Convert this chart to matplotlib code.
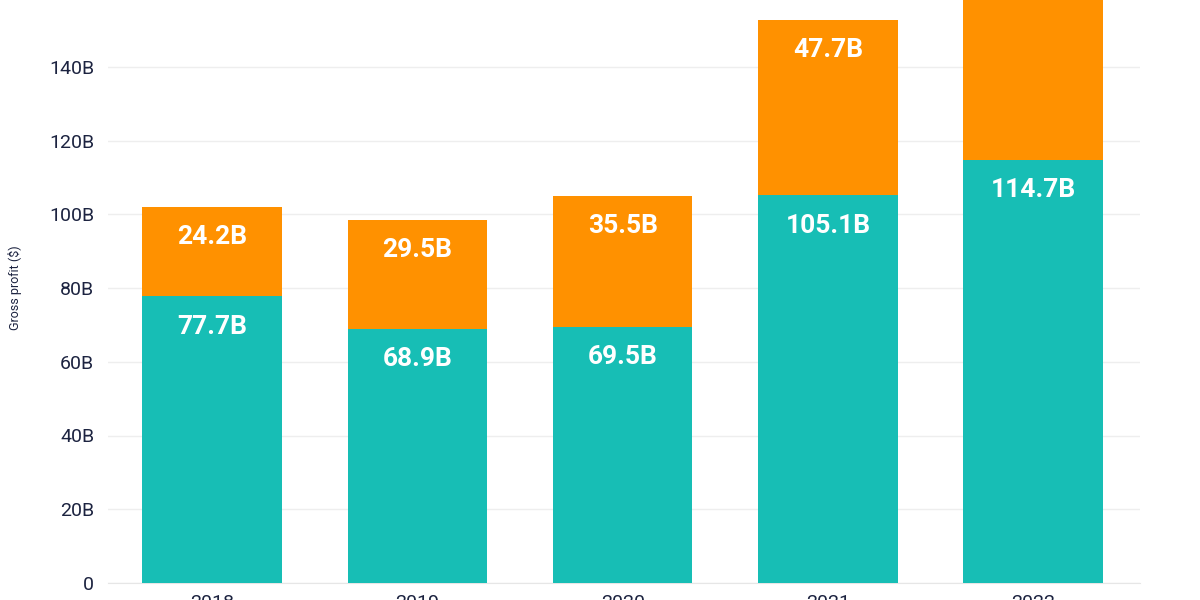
import matplotlib
matplotlib.use("Agg")
import matplotlib.pyplot as plt

years = ["2018", "2019", "2020", "2021", "2022"]
teal_vals = [77.7, 68.9, 69.5, 105.1, 114.7]
orange_vals = [24.2, 29.5, 35.5, 47.7, 55.3]
yticks = [0, 20, 40, 60, 80, 100, 120, 140, 160]
ytick_labels = ["0", "20B", "40B", "60B", "80B", "100B", "120B", "140B", "160B"]

plt.rcParams['font.family'] = ['Roboto', 'DejaVu Sans']
fig = plt.figure(figsize=(12, 6), dpi=100)
ax = fig.add_axes([108/1200, 17/600, 1032/1200, 590/600])
x = list(range(len(years)))
teal = "#17BEB5"
orange = "#FF9100"
ax.bar(x, teal_vals, width=0.68, color=teal, zorder=3)
ax.bar(x, orange_vals, bottom=teal_vals, width=0.68, color=orange, zorder=3)
for i in x:
    t = teal_vals[i]; o = orange_vals[i]
    ax.text(i, t - 8.2, f"{t}B", ha="center", va="center", color="white",
            fontsize=19, fontweight="bold", zorder=4)
    ax.text(i, t + o - 8.2, f"{o}B", ha="center", va="center", color="white",
            fontsize=19, fontweight="bold", zorder=4, clip_on=True)
ax.set_xlim(-0.507, 4.52)
ax.set_ylim(0, 160)
ax.set_yticks(yticks)
ax.set_yticklabels(ytick_labels, fontsize=14, color="#1c2340")
ax.set_xticks(x)
ax.set_xticklabels(years, fontsize=14, color="#1c2340")
ax.tick_params(length=0, pad=10)
ax.tick_params(axis="x", pad=8)
ax.grid(axis="y", color="#eeeeee", linewidth=1, zorder=0)
for s in ["top", "right", "left"]:
    ax.spines[s].set_visible(False)
ax.spines["bottom"].set_color("#e6e6e6")
ax.set_ylabel("Gross profit ($)", fontsize=9, color="#1c2340")
ax.yaxis.set_label_coords(-86/1032, 0.5)
fig.savefig("out.png", dpi=100)
